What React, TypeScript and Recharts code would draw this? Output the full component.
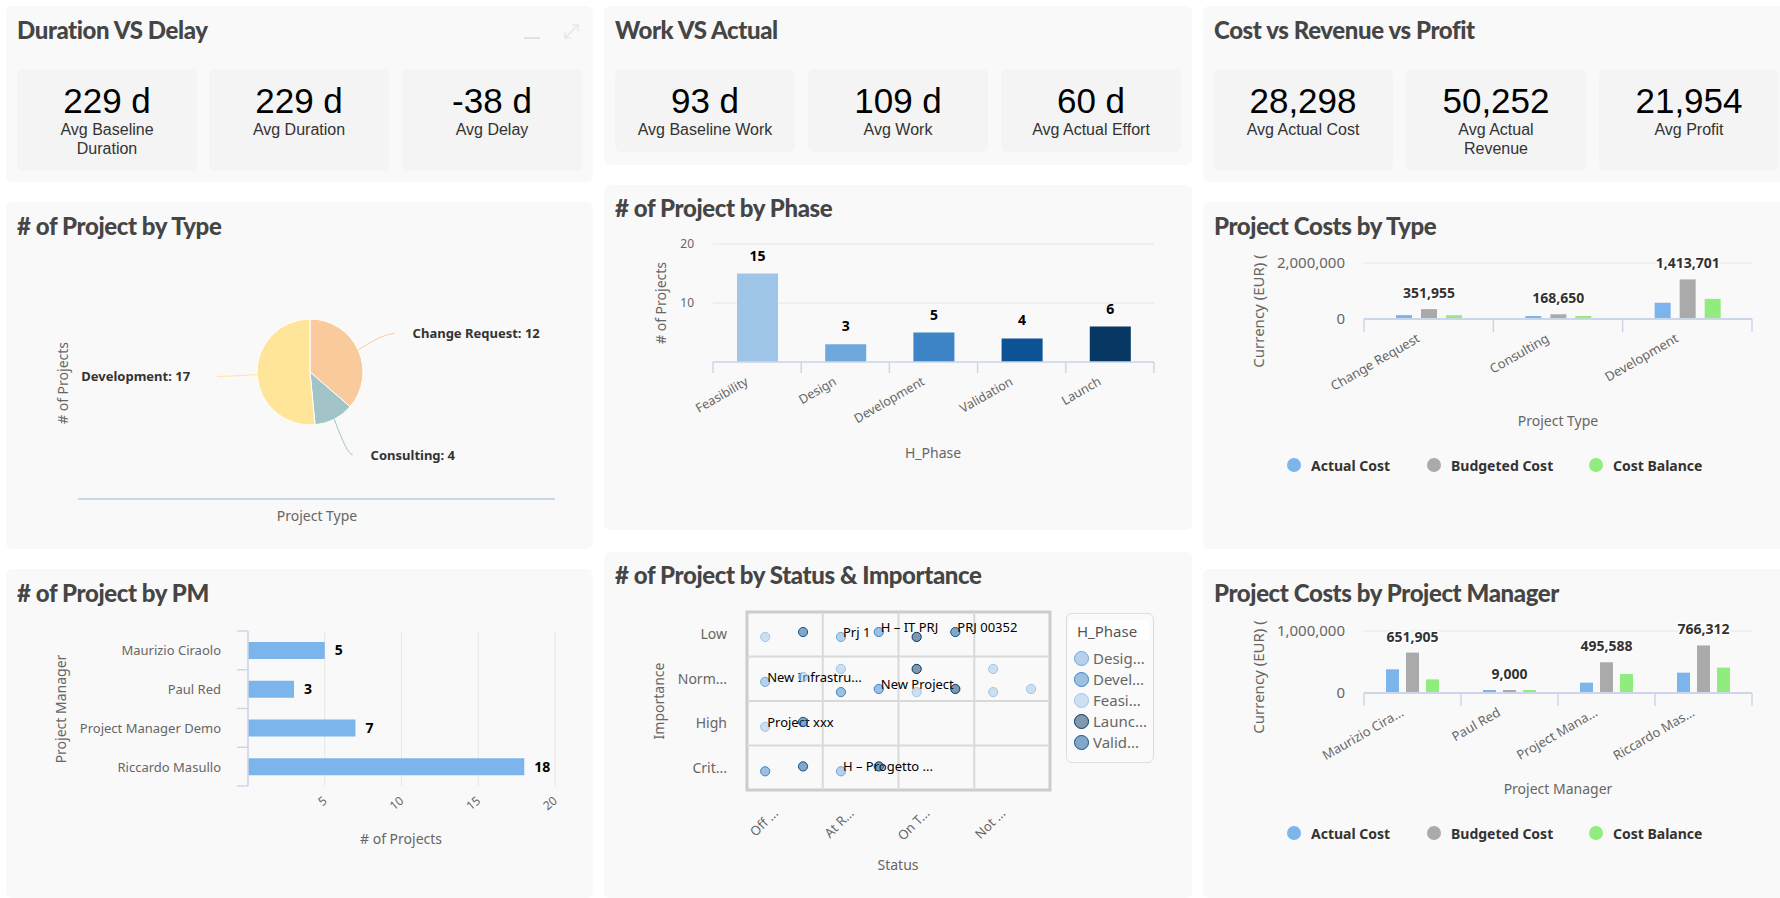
import React from 'react';
import {
  BarChart,
  Bar,
  XAxis,
  YAxis,
  CartesianGrid,
  LabelList,
  Cell,
  PieChart,
  Pie,
  ScatterChart,
  Scatter,
  ReferenceLine,
  ReferenceArea,
} from 'recharts';

// ---- data ----
const DURATION_VALUES = ['229 d', '229 d', '-38 d'];
const DURATION_LABELS = ['Avg Baseline\nDuration', 'Avg Duration', 'Avg Delay'];
const WORK_VALUES = ['93 d', '109 d', '60 d'];
const WORK_LABELS = ['Avg Baseline Work', 'Avg Work', 'Avg Actual Effort'];
const MONEY_VALUES = ['28,298', '50,252', '21,954'];
const MONEY_LABELS = ['Avg Actual Cost', 'Avg Actual\nRevenue', 'Avg Profit'];

const PROJECT_TYPES = ['Change Request', 'Consulting', 'Development'];
const PROJECTS_BY_TYPE = [12, 4, 17];

const PHASES = ['Feasibility', 'Design', 'Development', 'Validation', 'Launch'];
const PROJECTS_BY_PHASE = [15, 3, 5, 4, 6];

const COST_SERIES = ['Actual Cost', 'Budgeted Cost', 'Cost Balance'];
const TYPE_ACTUAL = [140000, 80000, 580000];
const TYPE_BUDGET = [351955, 168650, 1413701];
const TYPE_BALANCE = [135000, 75000, 720000];

const MANAGERS = ['Maurizio Ciraolo', 'Paul Red', 'Project Manager Demo', 'Riccardo Masullo'];
const MANAGERS_SHORT = ['Maurizio Cira...', 'Paul Red', 'Project Mana...', 'Riccardo Mas...'];
const PROJECTS_BY_PM = [5, 3, 7, 18];
const PM_ACTUAL = [382000, 4500, 167000, 328000];
const PM_BUDGET = [651905, 9000, 495588, 766312];
const PM_BALANCE = [220000, 4500, 306000, 409000];

const STATUSES = ['Off ...', 'At R...', 'On T...', 'Not ...'];
const IMPORTANCE = ['Crit...', 'High', 'Norm...', 'Low']; // bottom to top
const PHASE_SHORT = ['Desig...', 'Devel...', 'Feasi...', 'Launc...', 'Valid...'];

// x = status slot (+ jitter), y = importance slot (+ jitter)
const DESIGN_PTS = [
  { x: 1.24, y: 3.44, name: 'Prj 1' },
  { x: 0.24, y: 2.43, name: 'New Infrastru...' },
  { x: 1.24, y: 0.42, name: 'H – Progetto ...' },
];
const DEVEL_PTS = [
  { x: 1.74, y: 3.55, name: 'H – IT PRJ' },
  { x: 1.24, y: 2.2 },
  { x: 1.74, y: 2.27, name: 'New Project' },
  { x: 0.24, y: 0.42 },
];
const FEASI_PTS = [
  { x: 0.24, y: 3.44 },
  { x: 0.74, y: 2.54 },
  { x: 1.24, y: 2.72 },
  { x: 2.24, y: 2.2 },
  { x: 3.25, y: 2.72 },
  { x: 3.25, y: 2.2 },
  { x: 3.75, y: 2.27 },
  { x: 0.24, y: 1.42, name: 'Project xxx' },
];
const LAUNCH_PTS = [
  { x: 2.24, y: 3.44 },
  { x: 2.24, y: 2.72 },
  { x: 2.75, y: 2.27 },
  { x: 1.74, y: 0.53 },
];
const VALID_PTS = [
  { x: 0.74, y: 3.55 },
  { x: 2.75, y: 3.55, name: 'PRJ 00352' },
  { x: 0.74, y: 1.53 },
  { x: 0.74, y: 0.53 },
];

// ---- styles ----
const PANEL_BG = '#f9f9f9';
const CARD_BG = '#f4f4f4';
const AXIS = '#ccd6eb';
const GRID = '#e6e6e6';
const TICK = '#666666';
const CHART_FONT = '"Noto Sans", sans-serif';
const TITLE_FONT = 'Lato, "Noto Sans", sans-serif';
const KPI_FONT = '"Liberation Sans", Arial, sans-serif';
const TYPE_COLORS = ['#f9cb9c', '#a2c4c9', '#ffe599'];
const PHASE_COLORS = ['#9fc5e8', '#6fa8dc', '#3d85c6', '#0b5394', '#073763'];
const COST_COLORS = ['#7cb5ec', '#aaaaaa', '#90ed7d'];
const SCATTER_COLORS = ['#6fa8dc', '#3d85c6', '#9fc5e8', '#073763', '#0b5394'];

const fmt = (v: number) => v.toLocaleString('en-US');

function Panel({ x, y, w, h, title, titleTop = 12 }: any) {
  return (
    <div style={{ position: 'absolute', left: x, top: y, width: w, height: h, background: PANEL_BG, borderRadius: 6 }}>
      <div
        style={{
          position: 'absolute',
          left: 11,
          top: titleTop,
          fontFamily: TITLE_FONT,
          fontWeight: 900,
          fontSize: 24,
          lineHeight: '24px',
          color: '#454545',
          whiteSpace: 'nowrap',
          letterSpacing: -0.4,
        }}
      >
        {title}
      </div>
    </div>
  );
}

function Kpi({ x, y, h, value, label }: any) {
  return (
    <div style={{ position: 'absolute', left: x, top: y, width: 180, height: h, background: CARD_BG, borderRadius: 6, fontFamily: KPI_FONT, textAlign: 'center' }}>
      <div style={{ position: 'absolute', left: 0, right: 0, top: 14, fontSize: 35, lineHeight: '35px', color: '#000' }}>{value}</div>
      <div style={{ position: 'absolute', left: 0, right: 0, top: 51, fontSize: 16, lineHeight: '19px', color: '#333', whiteSpace: 'pre-line' }}>{label}</div>
    </div>
  );
}

function Txt({ x, y, children, size = 14, color = TICK, weight = 400, rotate = 0 }: any) {
  return (
    <div
      style={{
        position: 'absolute',
        left: x,
        top: y,
        transform: `translate(-50%, -50%) rotate(${rotate}deg)`,
        fontSize: size,
        lineHeight: `${size + 4}px`,
        color,
        fontWeight: weight,
        whiteSpace: 'nowrap',
      }}
    >
      {children}
    </div>
  );
}

function CostLegend({ y }: any) {
  const xs = [1287, 1427, 1589];
  return (
    <>
      {COST_SERIES.map((s, i) => (
        <div key={s} style={{ position: 'absolute', left: xs[i], top: y - 10, height: 20, display: 'flex', alignItems: 'center', whiteSpace: 'nowrap' }}>
          <span style={{ width: 14, height: 14, borderRadius: 7, background: COST_COLORS[i], marginRight: 10 }} />
          <span style={{ fontSize: 14, fontWeight: 700, color: '#333' }}>{s}</span>
        </div>
      ))}
    </>
  );
}

// category tick with Highcharts-like boundary tick marks and rotated label
function BandTick(props: any) {
  const { x, y, payload, index, count, bandHalf, tickLen, label, size = 12 } = props;
  const off = payload && payload.offset ? payload.offset : bandHalf;
  const ax = x - 8;
  const ay = y + 22;
  return (
    <g>
      <line x1={x - off} x2={x - off} y1={y} y2={y + tickLen} stroke={AXIS} strokeWidth={1.5} />
      {index === count - 1 ? <line x1={x + off} x2={x + off} y1={y} y2={y + tickLen} stroke={AXIS} strokeWidth={1.5} /> : null}
      <text x={ax} y={ay} textAnchor="end" transform={`rotate(-30, ${ax}, ${ay})`} fill={TICK} fontSize={size}>
        {label ?? payload.value}
      </text>
    </g>
  );
}

function PieLabel(props: any) {
  const { cx, cy, midAngle, outerRadius, fill, payload, value } = props;
  const rad = (-midAngle * Math.PI) / 180;
  const cos = Math.cos(rad);
  const sin = Math.sin(rad);
  const sx = cx + outerRadius * cos;
  const sy = cy + outerRadius * sin;
  const ex = sx + 40 * cos;
  const ey = sy + 40 * sin;
  const right = cos >= 0;
  const tx = ex + (right ? 18 : -27);
  return (
    <g>
      <path d={`M${sx},${sy} Q${sx + 28 * cos},${ey} ${ex},${ey}`} stroke={fill} fill="none" strokeWidth={1} />
      <text x={tx} y={ey} textAnchor={right ? 'start' : 'end'} dominantBaseline="central" fontSize={13} fontWeight={700} fill="#333">
        {`${payload.name}: ${value}`}
      </text>
    </g>
  );
}

function TypePie() {
  const data = PROJECT_TYPES.map((name, i) => ({ name, value: PROJECTS_BY_TYPE[i] }));
  return (
    <PieChart width={587} height={347} margin={{ top: 0, right: 0, bottom: 0, left: 0 }}>
      <Pie
        data={data}
        dataKey="value"
        nameKey="name"
        cx={304}
        cy={170}
        outerRadius={53}
        startAngle={90}
        endAngle={-270}
        stroke="#ffffff"
        strokeWidth={1}
        label={(p: any) => <PieLabel {...p} />}
        labelLine={false}
        isAnimationActive={false}
      >
        {data.map((d, i) => (
          <Cell key={d.name} fill={TYPE_COLORS[i]} />
        ))}
      </Pie>
    </PieChart>
  );
}

function PhaseBars() {
  const data = PHASES.map((name, i) => ({ name, value: PROJECTS_BY_PHASE[i] }));
  const plotW = 588 - 109 - 38;
  return (
    <BarChart width={588} height={345} data={data} margin={{ top: 59, right: 38, bottom: 138, left: 49 }}>
      <CartesianGrid vertical={false} stroke={GRID} />
      <XAxis
        dataKey="name"
        height={30}
        interval={0}
        axisLine={{ stroke: AXIS, strokeWidth: 1.5 }}
        tickLine={false}
        tickSize={0}
        tickMargin={0}
        tick={(p: any) => <BandTick {...p} count={PHASES.length} bandHalf={plotW / PHASES.length / 2} tickLen={11} size={12.5} />}
      />
      <YAxis
        width={60}
        domain={[0, 20]}
        ticks={[0, 10, 20]}
        axisLine={false}
        tickLine={false}
        tickSize={0}
        tickMargin={19}
        tickFormatter={(v: number) => (v === 0 ? '' : String(v))}
        tick={{ fill: TICK, fontSize: 12 }}
      />
      <Bar dataKey="value" barSize={41} isAnimationActive={false}>
        {data.map((d, i) => (
          <Cell key={d.name} fill={PHASE_COLORS[i]} />
        ))}
        <LabelList dataKey="value" position="top" offset={13} fill="#000" fontSize={14} fontWeight={700} />
      </Bar>
    </BarChart>
  );
}

function CostLabel(p: any) {
  const vb = p.viewBox || p;
  const x = (vb.x ?? p.x) + (vb.width ?? p.width) / 2;
  const y = vb.y ?? p.y;
  return (
    <text
      x={x}
      y={y - 11}
      textAnchor="middle"
      fontSize={14}
      fontWeight={700}
      fill="#333"
      stroke="#ffffff"
      strokeWidth={3}
      strokeLinejoin="round"
      style={{ paintOrder: 'stroke' }}
    >
      {fmt(p.value)}
    </text>
  );
}

function CostBars({ cats, labels, actual, budget, balance, height, top, bottom, max, barSize, barGap }: any) {
  const data = cats.map((name: string, i: number) => ({ name, actual: actual[i], budget: budget[i], balance: balance[i] }));
  const plotW = 577 - 161 - 28;
  return (
    <BarChart width={577} height={height} data={data} margin={{ top, right: 28, bottom, left: 81 }} barSize={barSize} barGap={barGap}>
      <CartesianGrid vertical={false} stroke={GRID} />
      <XAxis
        dataKey="name"
        height={30}
        interval={0}
        axisLine={{ stroke: AXIS, strokeWidth: 2 }}
        tickLine={false}
        tickSize={0}
        tickMargin={0}
        tick={(p: any) => (
          <BandTick {...p} count={cats.length} bandHalf={plotW / cats.length / 2} tickLen={13} label={labels[p.index]} size={13} />
        )}
      />
      <YAxis
        width={80}
        domain={[0, max]}
        ticks={[0, max]}
        axisLine={false}
        tickLine={false}
        tickSize={0}
        tickMargin={19}
        tickFormatter={fmt}
        tick={{ fill: TICK, fontSize: 15 }}
      />
      <Bar dataKey="actual" fill={COST_COLORS[0]} minPointSize={3} isAnimationActive={false} />
      <Bar dataKey="budget" fill={COST_COLORS[1]} minPointSize={3} isAnimationActive={false}>
        <LabelList dataKey="budget" content={(p: any) => <CostLabel {...p} />} />
      </Bar>
      <Bar dataKey="balance" fill={COST_COLORS[2]} minPointSize={3} isAnimationActive={false} />
    </BarChart>
  );
}

function PmTick(props: any) {
  const { x, y, payload, index, bandHalf } = props;
  const off = payload && payload.offset ? payload.offset : bandHalf;
  return (
    <g>
      <line x1={x - 11} x2={x} y1={y - off} y2={y - off} stroke={AXIS} strokeWidth={1.5} />
      {index === MANAGERS.length - 1 ? <line x1={x - 11} x2={x} y1={y + off} y2={y + off} stroke={AXIS} strokeWidth={1.5} /> : null}
      <text x={x - 27} y={y} textAnchor="end" dominantBaseline="central" fill={TICK} fontSize={13}>
        {payload.value}
      </text>
    </g>
  );
}

function PmValueTick(props: any) {
  const { x, y, payload } = props;
  if (payload.value === 0) return <g />;
  const ax = x + 3;
  const ay = y + 16;
  return (
    <text x={ax} y={ay} textAnchor="end" transform={`rotate(-40, ${ax}, ${ay})`} fill={TICK} fontSize={12}>
      {payload.value}
    </text>
  );
}

function PmBars() {
  const data = MANAGERS.map((name, i) => ({ name, value: PROJECTS_BY_PM[i] }));
  const plotH = 329 - 62 - 112;
  return (
    <BarChart width={587} height={329} data={data} layout="vertical" margin={{ top: 62, right: 38, bottom: 82, left: 142 }}>
      <CartesianGrid horizontal={false} stroke={GRID} />
      <XAxis
        type="number"
        domain={[0, 20]}
        ticks={[0, 5, 10, 15, 20]}
        height={30}
        axisLine={false}
        tickLine={false}
        tickSize={0}
        tickMargin={0}
        tick={(p: any) => <PmValueTick {...p} />}
      />
      <YAxis
        type="category"
        dataKey="name"
        width={100}
        interval={0}
        axisLine={{ stroke: AXIS, strokeWidth: 1.5 }}
        tickLine={false}
        tickSize={0}
        tickMargin={0}
        tick={(p: any) => <PmTick {...p} bandHalf={plotH / MANAGERS.length / 2} />}
      />
      <Bar dataKey="value" fill="#7cb5ec" barSize={17} isAnimationActive={false}>
        <LabelList dataKey="value" position="right" offset={10} fill="#000" fontSize={14} fontWeight={700} />
      </Bar>
    </BarChart>
  );
}

function StatusTick(props: any) {
  const { x, y, payload } = props;
  const ax = x - 6;
  const ay = y + 24;
  return (
    <text x={ax} y={ay} textAnchor="end" transform={`rotate(-45, ${ax}, ${ay})`} fill={TICK} fontSize={13}>
      {STATUSES[Math.floor(payload.value)]}
    </text>
  );
}

const makeDot = (color: string) => (p: any) => {
  const { cx, cy, payload } = p;
  return (
    <g>
      <circle cx={cx} cy={cy} r={4.6} fill={color} fillOpacity={0.5} stroke={color} strokeWidth={1} />
      {payload && payload.name ? (
        <text x={cx + 2} y={cy - 5} dominantBaseline="central" fontSize={13} fill="#000">
          {payload.name}
        </text>
      ) : null}
    </g>
  );
};

function StatusScatter() {
  const series = [DESIGN_PTS, DEVEL_PTS, FEASI_PTS, LAUNCH_PTS, VALID_PTS];
  return (
    <ScatterChart width={588} height={346} margin={{ top: 60, right: 142, bottom: 78, left: 43 }}>
      <XAxis
        type="number"
        dataKey="x"
        domain={[0, 4]}
        ticks={[0.5, 1.5, 2.5, 3.5]}
        interval={0}
        height={30}
        axisLine={false}
        tickLine={false}
        tickSize={0}
        tickMargin={0}
        tick={(p: any) => <StatusTick {...p} />}
      />
      <YAxis
        type="number"
        dataKey="y"
        domain={[0, 4]}
        ticks={[0.5, 1.5, 2.5, 3.5]}
        interval={0}
        width={100}
        axisLine={false}
        tickLine={false}
        tickSize={0}
        tickMargin={20}
        tickFormatter={(v: number) => IMPORTANCE[Math.floor(v)]}
        tick={{ fill: TICK, fontSize: 14 }}
      />
      {[1, 2, 3].map((v) => (
        <ReferenceLine key={`x${v}`} x={v} stroke="#d9d9d9" strokeWidth={2} />
      ))}
      {[1, 2, 3].map((v) => (
        <ReferenceLine key={`y${v}`} y={v} stroke="#d9d9d9" strokeWidth={2} />
      ))}
      <ReferenceArea x1={0} x2={4} y1={0} y2={4} fill="none" stroke="#cccccc" strokeWidth={3} />
      {series.map((pts, i) => (
        <Scatter key={PHASE_SHORT[i]} name={PHASE_SHORT[i]} data={pts} shape={makeDot(SCATTER_COLORS[i])} isAnimationActive={false} />
      ))}
    </ScatterChart>
  );
}

function PhaseLegend() {
  return (
    <div style={{ position: 'absolute', left: 1066, top: 613, width: 86, height: 148, border: '1px solid #dddddd', borderRadius: 6, background: '#fafafa' }}>
      <div style={{ position: 'absolute', left: 2, top: 6, width: 80, height: 20, background: '#ffffff' }} />
      <div style={{ position: 'absolute', left: 10, top: 7, fontSize: 15, lineHeight: '20px', color: '#555' }}>H_Phase</div>
      {PHASE_SHORT.map((p, i) => (
        <div key={p} style={{ position: 'absolute', left: 7, top: 35 + i * 21, height: 18, display: 'flex', alignItems: 'center', whiteSpace: 'nowrap' }}>
          <span
            style={{
              width: 13,
              height: 13,
              borderRadius: 8,
              background: SCATTER_COLORS[i] + '80',
              border: `1.5px solid ${SCATTER_COLORS[i]}`,
              marginRight: 4,
            }}
          />
          <span style={{ fontSize: 15, color: '#666' }}>{p}</span>
        </div>
      ))}
    </div>
  );
}

export default function App() {
  const kx = [[17, 209, 402], [615, 808, 1001], [1213, 1406, 1599]];
  return (
    <div style={{ position: 'absolute', left: 0, top: 0, width: 1780, height: 898, background: '#ffffff', overflow: 'hidden', fontFamily: CHART_FONT }}>
      <Panel x={6} y={6} w={587} h={176} title="Duration VS Delay" />
      <Panel x={604} y={6} w={588} h={159} title="Work VS Actual" />
      <Panel x={1203} y={6} w={590} h={176} title="Cost vs Revenue vs Profit" />
      <Panel x={6} y={202} w={587} h={347} title="# of Project by Type" />
      <Panel x={604} y={185} w={588} h={345} title="# of Project by Phase" titleTop={10.5} />
      <Panel x={1203} y={202} w={590} h={347} title="Project Costs by Type" />
      <Panel x={6} y={569} w={587} h={329} title="# of Project by PM" />
      <Panel x={604} y={552} w={588} h={346} title="# of Project by Status & Importance" titleTop={10.5} />
      <Panel x={1203} y={569} w={590} h={329} title="Project Costs by Project Manager" />

      <svg style={{ position: 'absolute', left: 520, top: 22 }} width={64} height={22}>
        <line x1={4} y1={16} x2={20} y2={16} stroke="#e2e2e2" strokeWidth={2} />
        <path d="M45,16 L58,3 M52,3 L58,3 L58,9 M45,10 L45,16 L51,16" stroke="#e8e8e8" strokeWidth={1.5} fill="none" />
      </svg>

      {DURATION_VALUES.map((v, i) => (
        <Kpi key={`d${i}`} x={kx[0][i]} y={69} h={102} value={v} label={DURATION_LABELS[i]} />
      ))}
      {WORK_VALUES.map((v, i) => (
        <Kpi key={`w${i}`} x={kx[1][i]} y={69} h={83} value={v} label={WORK_LABELS[i]} />
      ))}
      {MONEY_VALUES.map((v, i) => (
        <Kpi key={`m${i}`} x={kx[2][i]} y={69} h={102} value={v} label={MONEY_LABELS[i]} />
      ))}

      {/* # of Project by Type */}
      <div style={{ position: 'absolute', left: 6, top: 202 }}>
        <TypePie />
      </div>
      <div style={{ position: 'absolute', left: 78, top: 498, width: 477, height: 2, background: AXIS }} />
      <Txt x={317} y={516}>Project Type</Txt>
      <Txt x={63} y={383} rotate={-90}># of Projects</Txt>

      {/* # of Project by Phase */}
      <div style={{ position: 'absolute', left: 604, top: 185 }}>
        <PhaseBars />
      </div>
      <Txt x={933} y={453}>H_Phase</Txt>
      <Txt x={661} y={303} rotate={-90}># of Projects</Txt>

      {/* Project Costs by Type */}
      <div style={{ position: 'absolute', left: 1203, top: 202 }}>
        <CostBars
          cats={PROJECT_TYPES}
          labels={PROJECT_TYPES}
          actual={TYPE_ACTUAL}
          budget={TYPE_BUDGET}
          balance={TYPE_BALANCE}
          height={347}
          top={61}
          bottom={200}
          max={2000000}
          barSize={16}
          barGap={9}
        />
      </div>
      <Txt x={1558} y={421}>Project Type</Txt>
      <Txt x={1258} y={311} size={15} rotate={-90}>Currency (EUR) (</Txt>
      <CostLegend y={465} />

      {/* # of Project by PM */}
      <div style={{ position: 'absolute', left: 6, top: 569 }}>
        <PmBars />
      </div>
      <Txt x={401} y={839}># of Projects</Txt>
      <Txt x={61} y={709} rotate={-90}>Project Manager</Txt>

      {/* # of Project by Status & Importance */}
      <div style={{ position: 'absolute', left: 604, top: 552 }}>
        <StatusScatter />
      </div>
      <PhaseLegend />
      <Txt x={898} y={865}>Status</Txt>
      <Txt x={659} y={701} rotate={-90}>Importance</Txt>

      {/* Project Costs by Project Manager */}
      <div style={{ position: 'absolute', left: 1203, top: 569 }}>
        <CostBars
          cats={MANAGERS}
          labels={MANAGERS_SHORT}
          actual={PM_ACTUAL}
          budget={PM_BUDGET}
          balance={PM_BALANCE}
          height={329}
          top={62}
          bottom={175}
          max={1000000}
          barSize={13}
          barGap={7}
        />
      </div>
      <Txt x={1558} y={789}>Project Manager</Txt>
      <Txt x={1258} y={677} size={15} rotate={-90}>Currency (EUR) (</Txt>
      <CostLegend y={833} />
    </div>
  );
}
